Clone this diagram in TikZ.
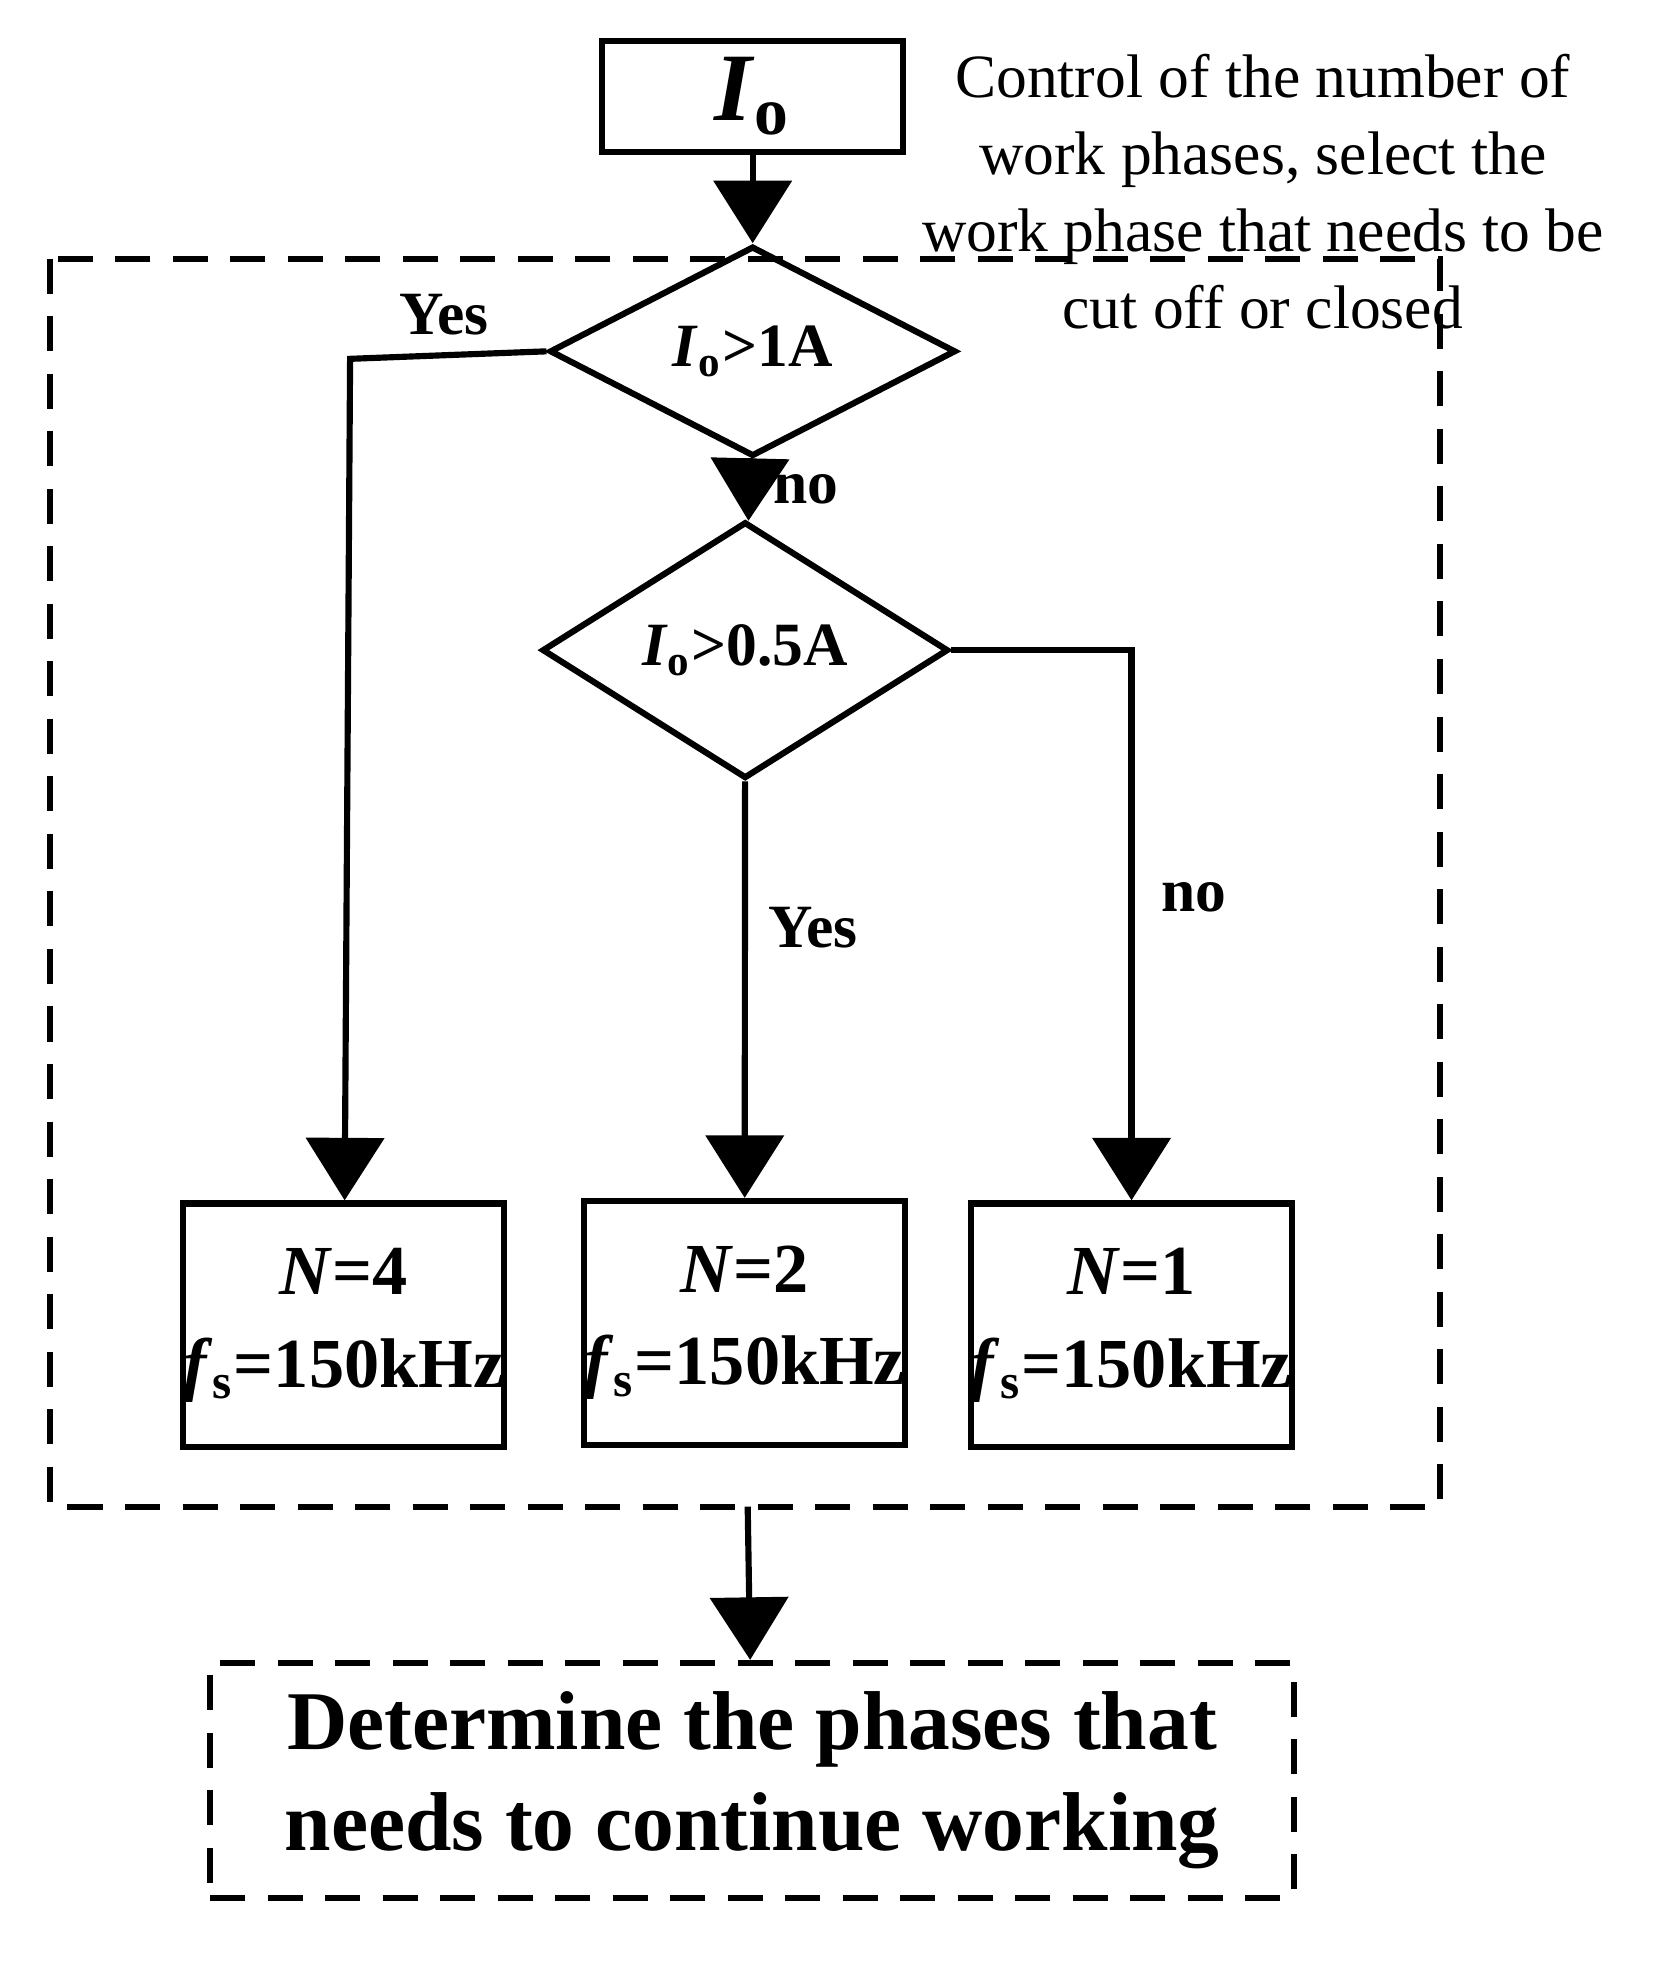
\documentclass[tikz,border=0pt]{standalone}
\usepackage{fontspec}
\setmainfont{Liberation Serif}
\usetikzlibrary{shapes.geometric,arrows.meta,positioning}
\newcommand{\cur}{\textit{I}\textsubscript{o}}
\begin{document}
\begin{tikzpicture}[
    line width=1.4pt,
    box/.style={rectangle, draw, minimum width=2.5cm, minimum height=1.95cm, inner sep=0pt, align=center, font=\fontsize{16}{21}\selectfont\bfseries},
    dec/.style={diamond, draw, minimum width=3.25cm, minimum height=1.42cm, inner sep=0pt, font=\fontsize{14}{16}\selectfont\bfseries},
    lbl/.style={font=\fontsize{14}{16}\selectfont\bfseries},
    dashed line/.style={dash pattern=on 0.28cm off 0.18cm},
    arrow/.style={-{Triangle[width=0.62cm,length=0.5cm]}}
]
    \useasboundingbox (0,0) rectangle (13.3,-15.74);
    \node[rectangle, draw, minimum width=2.41cm, minimum height=0.89cm, inner sep=0pt, font=\fontsize{22}{26}\selectfont\bfseries] (in) at (6.02,-0.77) {\cur};
    \node[align=center, font=\fontsize{14}{17.5}\selectfont] (note) at (10.1,-1.53) {Control of the number of\\work phases, select the\\work phase that needs to be\\cut off or closed};
    \draw[dashed line] (0.4,-2.07) rectangle (11.52,-12.05);
    \node[dec] (d1) at (6.02,-2.81) {\cur>1A};
    \node[dec] (d2) at (5.96,-5.2) {\cur>0.5A};
    \node[box] (n4) at (2.75,-10.6) {\textit{N}=4\\\textit{f}\textsubscript{s}=150kHz};
    \node[box] (n2) at (5.955,-10.58) {\textit{N}=2\\\textit{f}\textsubscript{s}=150kHz};
    \node[box] (n1) at (9.05,-10.6) {\textit{N}=1\\\textit{f}\textsubscript{s}=150kHz};
    \coordinate (out) at (5.98,-12.05);
    \node[rectangle, draw, dashed line, minimum width=8.67cm, minimum height=1.88cm, align=center, font=\fontsize{19}{23}\selectfont\bfseries] (res) at (6.015,-14.24) {Determine the phases that\\needs to continue working};

    \draw[arrow] (in) -- (d1);
    \draw[arrow] (d1.west) -- (2.8,-2.87) -- (n4);
    \draw[arrow] (d1) -- node[lbl, right=0.05cm] {no} (d2);
    \draw[arrow] (d2) -- node[lbl, right=0.05cm, pos=0.35] {Yes} (n2);
    \draw[arrow] (d2.east) -- (n1.north |- d2.east) -- node[lbl, right=0.1cm, pos=0.45] {no} (n1);
    \draw[arrow] (out) -- (res);
    \node[lbl] (yes1) at (3.55,-2.52) {Yes};
\end{tikzpicture}
\end{document}
